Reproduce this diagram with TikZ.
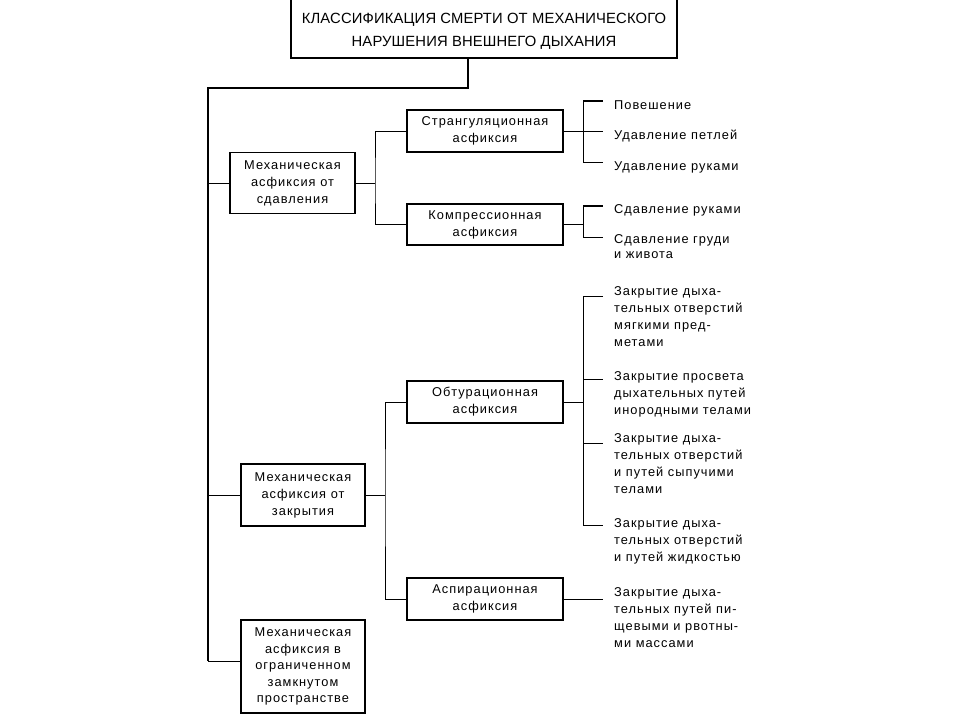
\documentclass[tikz,border=0pt]{standalone}
\usepackage{fontspec}
\setmainfont{Liberation Sans}
\newfontfamily\lsp[LetterSpace=8]{Liberation Sans}
\newfontfamily\tsp[LetterSpace=1]{Liberation Sans}
\begin{document}
\begin{tikzpicture}[x=1pt,y=-1pt,
  box/.style={draw, line width=1.3pt, inner sep=0pt, align=center, font=\lsp\fontsize{12.8}{17}\selectfont},
  lbox/.style={box, line width=1.6pt},
  mbox/.style={box, minimum width=156pt, minimum height=42pt},
  leaf/.style={anchor=base west, inner sep=0pt, font=\lsp\fontsize{12.8}{17}\selectfont},
  conn/.style={line width=1pt},
  mainline/.style={line width=2pt},
  boldtick/.style={line width=2pt}]
\useasboundingbox[fill=white] (0,0) rectangle (960,720);

% boxes
\node[draw, line width=1.6pt, minimum width=386pt, minimum height=60pt, align=center, inner sep=0pt,
      font=\tsp\fontsize{14.8}{23}\selectfont] (title) at (484,28)
      {\rule{0pt}{16pt}КЛАССИФИКАЦИЯ СМЕРТИ ОТ МЕХАНИЧЕСКОГО\\НАРУШЕНИЯ ВНЕШНЕГО ДЫХАНИЯ};

\node[lbox, minimum width=125pt, minimum height=61pt] (b1) at (292.5,183) {Механическая\\асфиксия от\\сдавления};
\node[lbox, minimum width=124pt, minimum height=62pt] (b2) at (303,495) {Механическая\\асфиксия от\\закрытия};
\node[lbox, minimum width=124pt, minimum height=93pt, font=\lsp\fontsize{12.8}{16.5}\selectfont] (b3) at (303,666.5) {Механическая\\асфиксия в\\ограниченном\\замкнутом\\пространстве};

\node[mbox] (s1) at (485,131) {Странгуляционная\\асфиксия};
\node[mbox, minimum height=41pt] (s2) at (485,224.5) {Компрессионная\\асфиксия};
\node[mbox] (s3) at (485,402) {Обтурационная\\асфиксия};
\node[mbox] (s4) at (485,599) {Аспирационная\\асфиксия};

% leaves
\node[leaf] (l1) at (614,109) {Повешение};
\node[leaf] (l2) at (614,139) {Удавление петлей};
\node[leaf] (l3) at (614,170) {Удавление руками};
\node[leaf] (l4) at (614,213) {Сдавление руками};
\node[leaf] (l5) at (614,243) {\vtop{\baselineskip=15.5pt\hbox{Сдавление груди}\hbox{и живота}}};
\node[leaf] (l6) at (614,295) {\vtop{\hbox{Закрытие дыха-}\hbox{тельных отверстий}\hbox{мягкими пред-}\hbox{метами}}};
\node[leaf] (l7) at (614,380) {\vtop{\hbox{Закрытие просвета}\hbox{дыхательных путей}\hbox{инородными телами}}};
\node[leaf] (l8) at (614,442) {\vtop{\hbox{Закрытие дыха-}\hbox{тельных отверстий}\hbox{и путей сыпучими}\hbox{телами}}};
\node[leaf] (l9) at (614,527) {\vtop{\hbox{Закрытие дыха-}\hbox{тельных отверстий}\hbox{и путей жидкостью}}};
\node[leaf] (l10) at (614,596) {\vtop{\hbox{Закрытие дыха-}\hbox{тельных путей пи-}\hbox{щевыми и рвотны-}\hbox{ми массами}}};

% coordinates
\coordinate (j0) at (468,88);
\coordinate (m0) at (208,88);
\coordinate (mEnd) at (208,661);
\coordinate (c1) at (375,183);
\coordinate (c2) at (385,495);
\coordinate (k1) at (583,131);
\coordinate (k2) at (583,224.5);
\coordinate (k3) at (583,402);
\coordinate (e1) at (603,101);
\coordinate (e2) at (603,131);
\coordinate (e3) at (603,162);
\coordinate (e4) at (603,206);
\coordinate (e5) at (603,237);
\coordinate (e6) at (603,296);
\coordinate (e7) at (603,379);
\coordinate (e8) at (603,443);
\coordinate (e9) at (603,525);
\coordinate (e10) at (603,599);

% main trunk
\draw[mainline] (title.south -| j0) -- (j0) -- (m0) -- (mEnd);
\draw[conn] (m0 |- b1.west) -- (b1.west);
\draw[conn] (m0 |- b2.west) -- (b2.west);
\draw[conn] (mEnd) -- (mEnd -| b3.west);

% second level
\draw[conn] (b1.east) -- (c1);
\draw[conn] (s1.west) -| (c1) |- (s2.west);
\draw[conn] (b2.east) -- (c2);
\draw[conn] (s3.west) -| (c2) |- (s4.west);

% brackets
\draw[conn] (s1.east) -- (e2);
\draw[conn] (e1 -| k1) -- (e3 -| k1) -- (e3);
\draw[boldtick] (e1 -| k1) -- (e1);

\draw[conn] (s2.east) -- (k2);
\draw[conn] (e4 -| k2) -- (e5 -| k2) -- (e5);
\draw[boldtick] (e4 -| k2) -- (e4);

\draw[conn] (s3.east) -- (k3);
\draw[conn] (e6) -- (e6 -| k3) -- (e9 -| k3) -- (e9);
\draw[conn] (e7 -| k3) -- (e7);
\draw[conn] (e8 -| k3) -- (e8);

\draw[conn] (s4.east) -- (e10);
\end{tikzpicture}
\end{document}
